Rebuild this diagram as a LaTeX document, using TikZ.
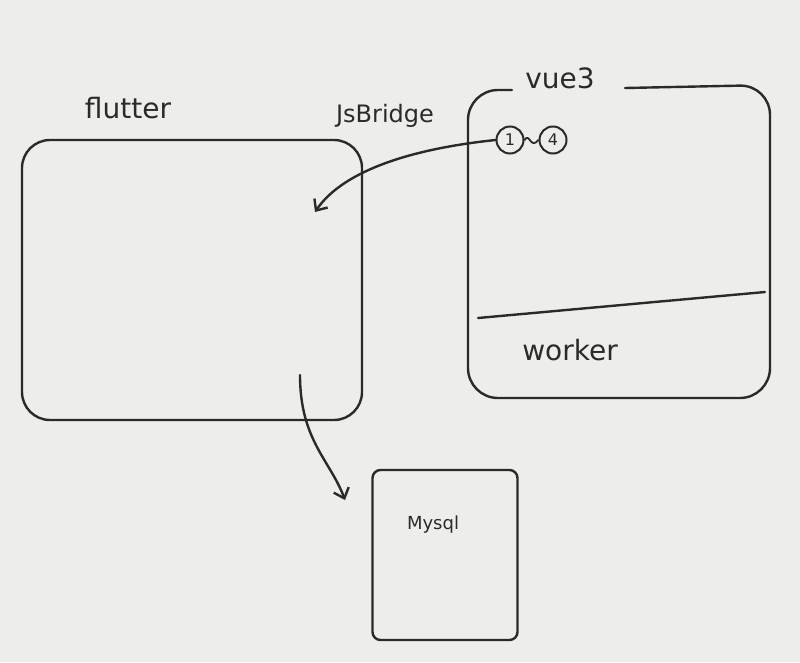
\documentclass[tikz,border=0pt]{standalone}
\usepackage{fontspec}
\setmainfont{DejaVu Sans}
\usetikzlibrary{arrows.meta}
\definecolor{paper}{HTML}{EDEDEB}
\definecolor{ink}{HTML}{2A2A2A}
\begin{document}
\begin{tikzpicture}[x=1pt,y=-1pt,
  pen/.style={draw=ink,line width=2.4pt,line cap=round,line join=round},
  lbl/.style={text=ink,font=\fontsize{28}{30}\selectfont},
  circ/.style={circle,draw=ink,line width=2pt,minimum size=27pt,inner sep=0pt,text=ink,font=\fontsize{16}{16}\selectfont}]
\fill[paper] (0,0) rectangle (800,662);
\useasboundingbox (0,0) rectangle (800,662);
% flutter box
\draw[pen,rounded corners=28pt] (22,140) rectangle (362,420);
\node[lbl] (fl) at (128,108) {flutter};
% vue3 box
\draw[pen,rounded corners=30pt] (512,90) -- (468,90) -- (468,398) -- (770,398) -- (770,85) -- (625,88);
\node[lbl] (vue) at (560,78) {vue3};
\coordinate (wa) at (765,292);
\coordinate (wb) at (478,318);
\draw[pen] (wa) -- (wb);
\node[lbl] (wk) at (570,350) {worker};
% circles
\node[circ] (c1) at (510,140) {1};
\node[circ] (c4) at (553,140) {4};
\draw[pen,line width=1.8pt] (c1.east) .. controls (530,132) and (530,150) .. (c4.west);
% JSBridge
\node[lbl,font=\fontsize{24}{26}\selectfont] (js) at (385,116) {JsBridge};
\draw[pen,-{Straight Barb[length=9pt,width=16pt]}] (c1.west) .. controls (400,150) and (340,175) .. (315,212);
% Mysql
\node[draw=ink,line width=2.4pt,rounded corners=8pt,minimum width=145pt,minimum height=170pt] (db) at (445,555) {};
\node[text=ink,font=\fontsize{18}{20}\selectfont] (dbl) at (433,525) {Mysql};
\coordinate (fs) at (300,375);
\draw[pen,-{Straight Barb[length=9pt,width=16pt]}] (fs) .. controls (300,440) and (330,460) .. (345,500);
\end{tikzpicture}
\end{document}
